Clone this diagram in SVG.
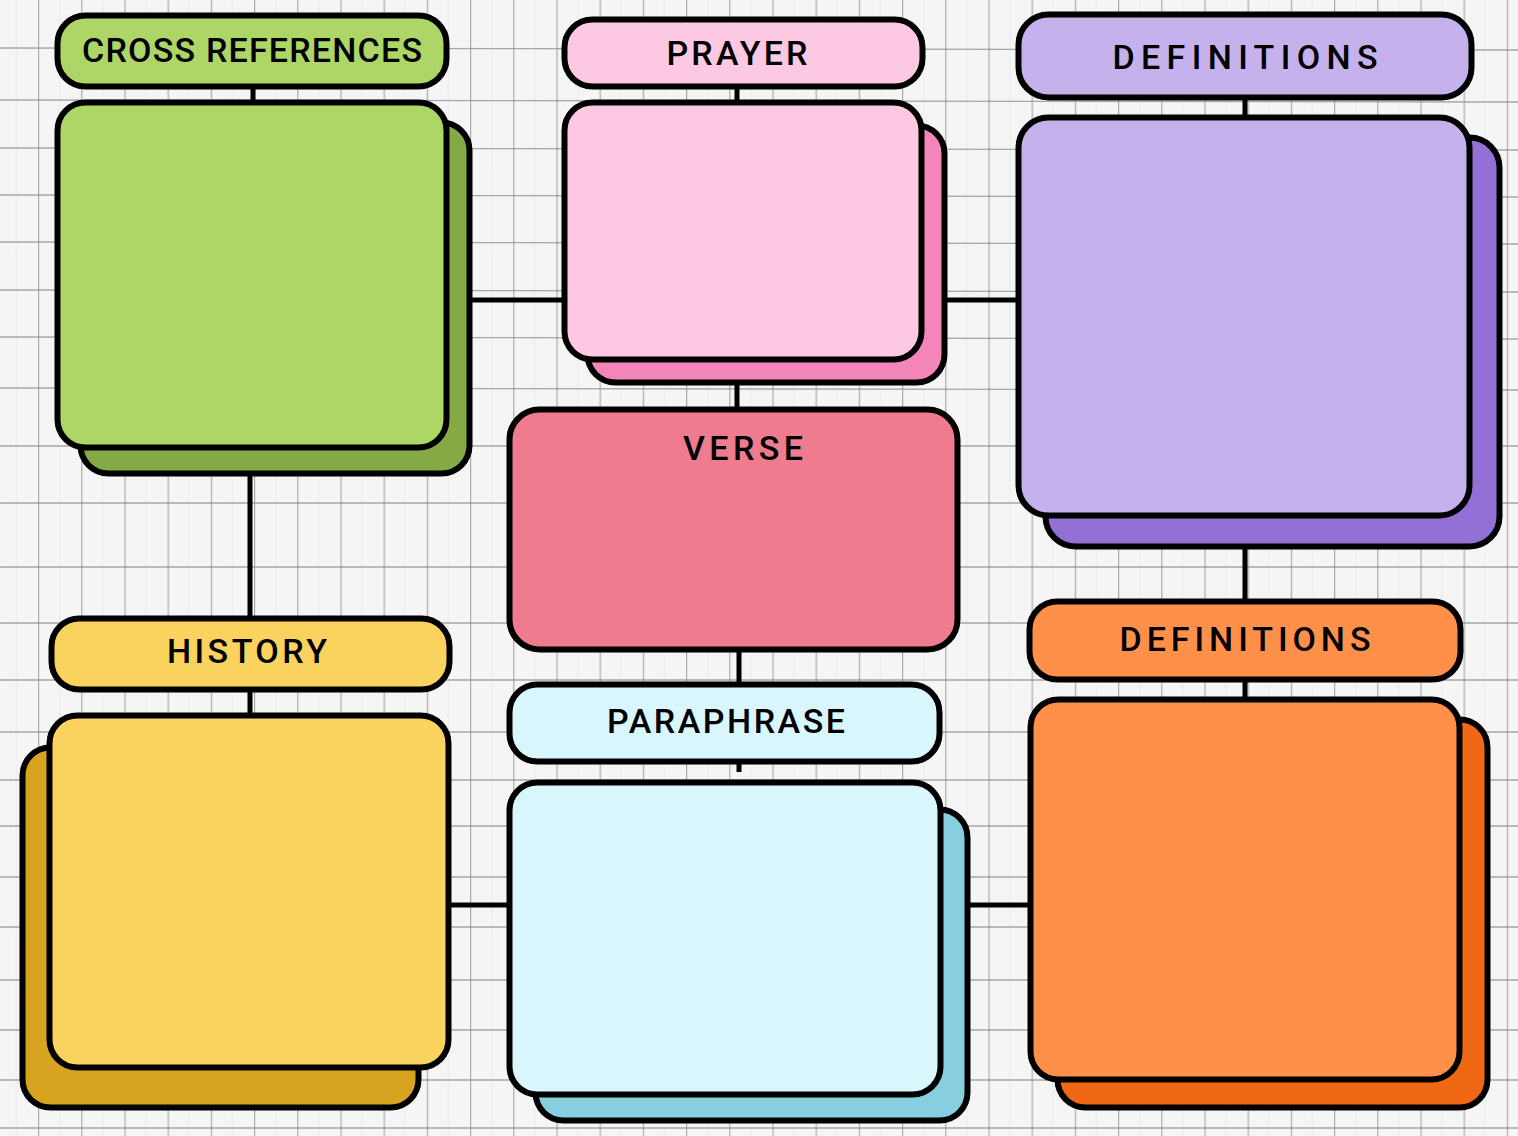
<svg xmlns="http://www.w3.org/2000/svg" width="1518" height="1136" viewBox="0 0 1518 1136">
<defs>
<pattern id="vgrid" x="38" y="0" width="43.2" height="1136" patternUnits="userSpaceOnUse">
<line x1="0.6" y1="0" x2="0.6" y2="1136" stroke="#8c8c8c" stroke-width="1.2" stroke-opacity="0.7"/>
<line x1="21.6" y1="0" x2="21.6" y2="1136" stroke="#c4c4c4" stroke-width="0.8" stroke-opacity="0.3"/>
</pattern>
<style>
.bg{fill:#f5f5f5}
.h{stroke:#8c8c8c;stroke-width:1.3;stroke-opacity:0.75}
.c{stroke:#000;stroke-width:5;fill:none}
.box{stroke:#000;stroke-width:6}
.t{font-family:Roboto,"Open Sans","DejaVu Sans",sans-serif;font-weight:500;font-size:34px;fill:#000;text-anchor:middle}
</style>
</defs>
<rect class="bg" x="0" y="0" width="1518" height="1136"/>
<rect x="0" y="0" width="1518" height="1136" fill="url(#vgrid)"/>
<g id="hgrid">
<line class="h" x1="0" y1="48" x2="1518" y2="50"/>
<line class="h" x1="0" y1="100" x2="1518" y2="102"/>
<line class="h" x1="0" y1="148" x2="1518" y2="150"/>
<line class="h" x1="0" y1="195" x2="1518" y2="197"/>
<line class="h" x1="0" y1="242" x2="1518" y2="244"/>
<line class="h" x1="0" y1="290" x2="1518" y2="292"/>
<line class="h" x1="0" y1="337" x2="1518" y2="339"/>
<line class="h" x1="0" y1="388" x2="1518" y2="390"/>
<line class="h" x1="0" y1="446" x2="1518" y2="446"/>
<line class="h" x1="0" y1="503" x2="1518" y2="503"/>
<line class="h" x1="0" y1="567" x2="1518" y2="567"/>
<line class="h" x1="0" y1="623" x2="1518" y2="623"/>
<line class="h" x1="0" y1="680" x2="1518" y2="680"/>
<line class="h" x1="0" y1="732" x2="1518" y2="732"/>
<line class="h" x1="0" y1="780" x2="1518" y2="780"/>
<line class="h" x1="0" y1="826" x2="1518" y2="826"/>
<line class="h" x1="0" y1="877" x2="1518" y2="877"/>
<line class="h" x1="0" y1="927" x2="1518" y2="927"/>
<line class="h" x1="0" y1="980" x2="1518" y2="980"/>
<line class="h" x1="0" y1="1030" x2="1518" y2="1030"/>
<line class="h" x1="0" y1="1080" x2="1518" y2="1080"/>
<line class="h" x1="0" y1="1128" x2="1518" y2="1128"/>
</g>
<g id="connectors">
<line class="c" x1="253" y1="86" x2="253" y2="103"/>
<line class="c" x1="737" y1="86" x2="737" y2="103"/>
<line class="c" x1="1245" y1="98" x2="1245" y2="118"/>
<line class="c" x1="470" y1="300" x2="564" y2="300"/>
<line class="c" x1="944" y1="300" x2="1018" y2="300"/>
<line class="c" x1="737" y1="383" x2="737" y2="410"/>
<line class="c" x1="250" y1="474" x2="250" y2="619"/>
<line class="c" x1="250" y1="690" x2="250" y2="716"/>
<line class="c" x1="739" y1="650" x2="739" y2="685"/>
<line class="c" x1="739" y1="762" x2="739" y2="772"/>
<line class="c" x1="449" y1="905" x2="509" y2="905"/>
<line class="c" x1="968" y1="905" x2="1030" y2="905"/>
<line class="c" x1="1245" y1="547" x2="1245" y2="602"/>
<line class="c" x1="1245" y1="680" x2="1245" y2="700"/>
</g>
<g id="cross-references">
<rect class="box" x="57.5" y="15.5" width="389" height="71" rx="28" fill="#aed667"/>
<text class="t" x="252" y="62" textLength="340" lengthAdjust="spacing">CROSS REFERENCES</text>
<rect class="box" x="80.5" y="122.5" width="389" height="351" rx="28" fill="#85aa45"/>
<rect class="box" x="57.5" y="102.5" width="389" height="345" rx="28" fill="#aed667"/>
</g>
<g id="prayer">
<rect class="box" x="564.5" y="19.5" width="358" height="67" rx="28" fill="#fdc8e1"/>
<text class="t" x="737" y="65" textLength="141" lengthAdjust="spacing">PRAYER</text>
<rect class="box" x="587.5" y="125.5" width="357" height="257" rx="28" fill="#f485b9"/>
<rect class="box" x="564.5" y="102.5" width="357" height="257" rx="28" fill="#fdc8e1"/>
</g>
<g id="definitions-top">
<rect class="box" x="1018.5" y="14.5" width="453" height="83" rx="30" fill="#c5b2ec"/>
<text class="t" x="1245" y="69" textLength="265" lengthAdjust="spacing">DEFINITIONS</text>
<rect class="box" x="1045.5" y="137.5" width="454" height="409" rx="30" fill="#9370d5"/>
<rect class="box" x="1018.5" y="117.5" width="451" height="398" rx="30" fill="#c5b2ec"/>
</g>
<g id="verse">
<rect class="box" x="509.5" y="409.5" width="448" height="240" rx="30" fill="#ee7b8e"/>
<text class="t" x="743" y="460" textLength="120" lengthAdjust="spacing">VERSE</text>
</g>
<g id="history">
<rect class="box" x="51.5" y="618.5" width="398" height="71" rx="28" fill="#fad25e"/>
<text class="t" x="247" y="663" textLength="160" lengthAdjust="spacing">HISTORY</text>
<rect class="box" x="22.5" y="747.5" width="396" height="360" rx="28" fill="#d8a31f"/>
<rect class="box" x="49.5" y="715.5" width="399" height="352" rx="28" fill="#fad25e"/>
</g>
<g id="paraphrase">
<rect class="box" x="509.5" y="684.5" width="430" height="77" rx="28" fill="#d9f6fd"/>
<text class="t" x="726" y="733" textLength="238" lengthAdjust="spacing">PARAPHRASE</text>
<rect class="box" x="535.5" y="809.5" width="432" height="311" rx="28" fill="#87cede"/>
<rect class="box" x="509.5" y="782.5" width="431" height="312" rx="28" fill="#d9f6fd"/>
</g>
<g id="definitions-bottom">
<rect class="box" x="1029.5" y="601.5" width="431" height="78" rx="28" fill="#ff904a"/>
<text class="t" x="1245" y="651" textLength="251" lengthAdjust="spacing">DEFINITIONS</text>
<rect class="box" x="1057.5" y="719.5" width="430" height="388" rx="28" fill="#f06814"/>
<rect class="box" x="1030.5" y="699.5" width="429" height="380" rx="28" fill="#ff904a"/>
</g>
</svg>
